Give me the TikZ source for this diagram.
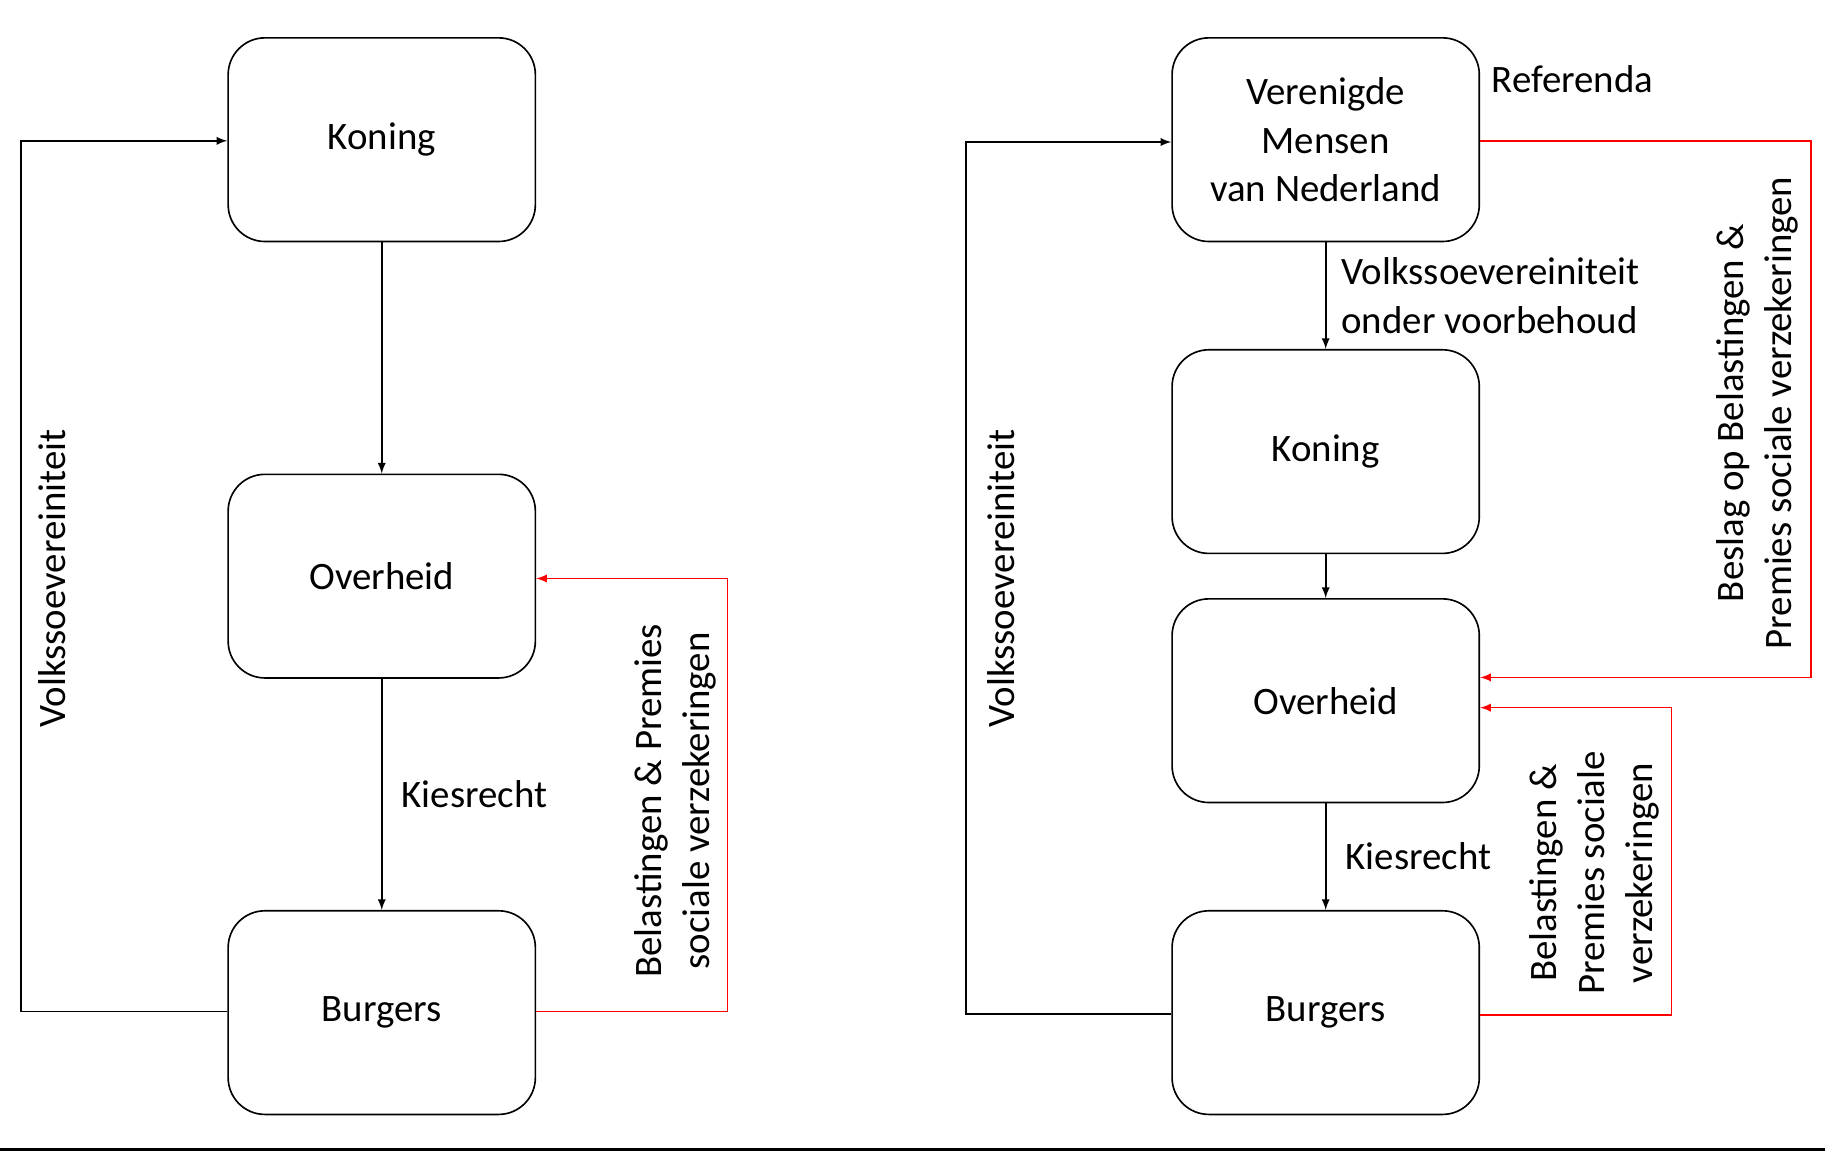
\documentclass[tikz,border=0pt]{standalone}
\usepackage{fontspec}
\setmainfont{Carlito}
\usetikzlibrary{arrows}
\begin{document}
\begin{tikzpicture}[x=0.02cm,y=-0.02cm,>=latex,thick,
  box/.style={draw,rounded corners=18pt,minimum width=5.28cm,minimum height=3.5cm,align=center,
    font=\fontsize{19}{23.5}\selectfont},
  lbl/.style={align=center,font=\fontsize{19}{23.5}\selectfont},
  tax/.style={red,->}]
 \useasboundingbox (0,0) rectangle (1568,991);
 \draw[line width=1.5pt] (0,988) -- (1568,988);

 % links
 \node[box] (k1) at (328,120) {Koning};
 \node[box] (o1) at (328,495) {Overheid};
 \node[box] (b1) at (328,870) {Burgers};
 \coordinate (v1a) at (18,869);  \coordinate (v1b) at (18,121);
 \coordinate (r1a) at (625,869); \coordinate (r1b) at (625,497);

 \draw[->] (k1) -- (o1);
 \draw[->] (o1) -- node[lbl,right,xshift=6pt] {Kiesrecht} (b1);
 \draw[->] (b1.west |- v1a) -- (v1a) -- (v1b) -- (k1.west |- v1b);
 \node[lbl,rotate=90] (vs1) at (45,497) {Volkssoevereiniteit};
 \draw[tax] (b1.east |- r1a) -- (r1a) -- (r1b) -- (o1.east |- r1b);
 \node[lbl,rotate=90] at (580,688) {Belastingen \& Premies\\sociale verzekeringen};

 % rechts
 \node[box] (vm) at (1139,120) {Verenigde\\Mensen\\van Nederland};
 \node[box] (k2) at (1139,388) {Koning};
 \node[box] (o2) at (1139,602) {Overheid};
 \node[box] (b2) at (1139,870) {Burgers};
 \node[lbl] at (1351,68) {Referenda};
 \coordinate (v2a) at (830,871);  \coordinate (v2b) at (830,122);
 \coordinate (r2a) at (1556,121); \coordinate (r2b) at (1556,582);
 \coordinate (r3a) at (1436,872); \coordinate (r3b) at (1436,608);

 \draw[->] (vm) -- node[lbl,right,align=left,xshift=4pt] {Volkssoevereiniteit\\onder voorbehoud} (k2);
 \draw[->] (k2) -- (o2);
 \draw[->] (o2) -- node[lbl,right,xshift=6pt] {Kiesrecht} (b2);
 \draw[->] (b2.west |- v2a) -- (v2a) -- (v2b) -- (vm.west |- v2b);
 \node[lbl,rotate=90] (vs2) at (860,497) {Volkssoevereiniteit};
 \draw[tax] (vm.east |- r2a) -- (r2a) -- (r2b) -- (o2.east |- r2b);
 \draw[tax] (b2.east |- r3a) -- (r3a) -- (r3b) -- (o2.east |- r3b);
 \node[lbl,rotate=90] at (1510,355) {Beslag op Belastingen \&\\Premies sociale verzekeringen};
 \node[lbl,rotate=90] at (1370,750) {Belastingen \&\\Premies sociale\\verzekeringen};
\end{tikzpicture}
\end{document}
